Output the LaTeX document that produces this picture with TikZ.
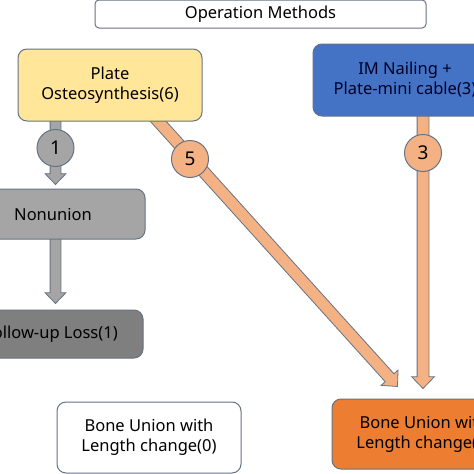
\documentclass[tikz,border=0pt]{standalone}
\usepackage{fontspec}
\setmainfont{Noto Sans}
\usetikzlibrary{shapes.arrows,calc,backgrounds}
\definecolor{plateyellow}{HTML}{FFE699}
\definecolor{nailblue}{HTML}{4472C4}
\definecolor{peach}{HTML}{F4B183}
\definecolor{resultorange}{HTML}{ED7D31}
\definecolor{midgray}{HTML}{A5A5A5}
\definecolor{darkgray}{HTML}{7F7F7F}
\definecolor{edgegray}{HTML}{667384}
\newcommand\fatarrow[3][]{%
  \path let \p1=(#2), \p2=(#3),
    \n1={atan2(\y2-\y1,\x2-\x1)}, \n2={veclen(\x2-\x1,\y2-\y1)} in
    (\p1) node[fatarrow,#1,rotate=\n1,minimum height=\n2,anchor=tail] {};}
\begin{document}
\begin{tikzpicture}[x=1pt,y=-1pt,
	box/.style={draw=edgegray, line width=1pt, rounded corners=9pt, minimum width=184pt, align=center, inner sep=0pt, font=\fontsize{16.5}{20}\selectfont},
	fatarrow/.style={single arrow, draw=edgegray, line width=0.8pt, inner xsep=0pt, outer sep=0pt, minimum width=0pt, single arrow tip angle=88},
	grayarrow/.style={fill=midgray, inner ysep=5pt, single arrow head extend=5pt},
	peacharrow/.style={fill=peach, inner ysep=5.5pt, single arrow head extend=5.5pt},
	num/.style={draw=edgegray, line width=1pt, circle, minimum size=37pt, inner sep=0pt, font=\fontsize{19}{19}\selectfont\bfseries}]
		\useasboundingbox (0,0) rectangle (474,474);
		\clip (0,0) rectangle (474,474);
		\draw (260.5,14) node[box, rounded corners=4pt, minimum width=331pt, minimum height=28pt, fill=white] (methods) {Operation Methods};
		\draw (110,85) node[box, minimum height=72pt, fill=plateyellow] (plate) {Plate\\Osteosynthesis(6)};
		\draw (405,80) node[box, minimum height=72pt, fill=nailblue, text=black!85!blue] (nailing) {IM Nailing +\\Plate-mini cable(3)};
		\draw (53,214) node[box, minimum height=50pt, fill=midgray] (nonunion) {Nonunion};
		\draw (51,334) node[box, minimum height=48pt, fill=darkgray] (lost) {Follow-up Loss(1)};
		\draw (149,437.5) node[box, minimum height=71pt, fill=white] (noresult) {Bone Union with\\Length change(0)};
		\draw (424,434) node[box, minimum height=70pt, fill=resultorange] (result) {Bone Union with\\Length change(8)};
		\coordinate (c1) at (55.5,148);
		\coordinate (c5) at (190,159);
		\coordinate (c3) at (423,153);
		\begin{scope}[on background layer]
		\fill[white] (0,0) rectangle (474,474);
		\fatarrow[grayarrow]{$(plate.south -| c1)+(0,-4)$}{$(nonunion.north -| c1)+(0,-4)$}
		\fatarrow[grayarrow]{$(nonunion.south -| c1)+(0,-4)$}{$(lost.north -| c1)+(0,-6)$}
		\fatarrow[peacharrow]{$(plate.-37.5)+(-7,-7.7)$}{$(result.north west)+(66,-12)$}
		\fatarrow[peacharrow]{$(nailing.south -| c3)+(0,-4)$}{$(result.north -| c3)+(0,-10)$}
		\end{scope}
		\draw (c1) node[num, fill=midgray] (one) {1};
		\draw (c5) node[num, fill=peach] (five) {5};
		\draw (c3) node[num, fill=peach] (three) {3};
	\end{tikzpicture}
\end{document}
